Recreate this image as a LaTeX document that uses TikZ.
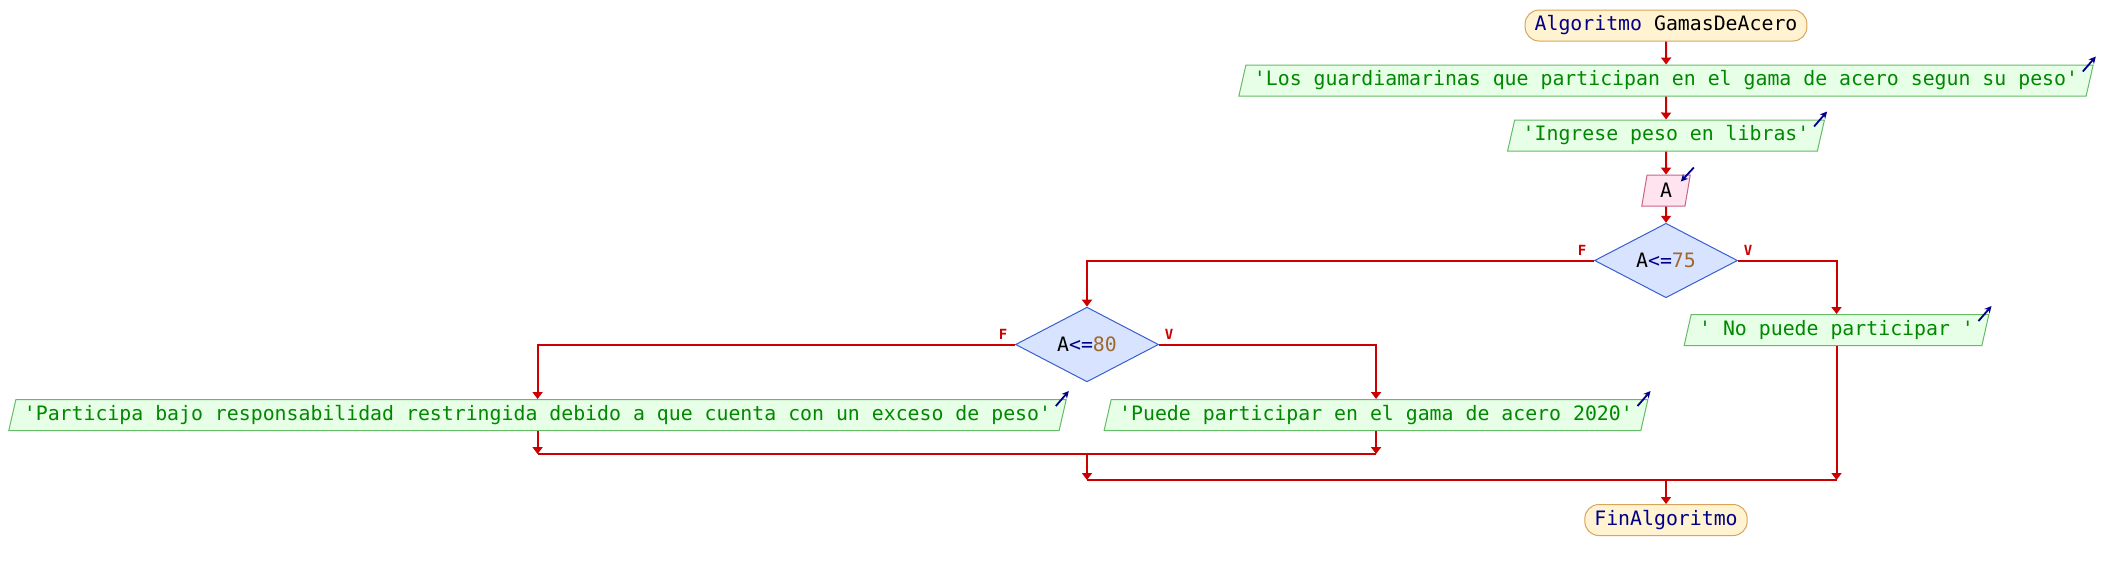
\documentclass[tikz,border=0pt]{standalone}
\usepackage{fontspec}
\setmonofont{DejaVu Sans Mono}
\usetikzlibrary{shapes.geometric,arrows.meta,calc}
\definecolor{flowred}{HTML}{CC0000}
\definecolor{tgreen}{HTML}{008800}
\definecolor{tblue}{HTML}{000088}
\definecolor{tbrown}{HTML}{A0682A}
\definecolor{outfill}{HTML}{E6FFE6}
\definecolor{outline}{HTML}{66BB66}
\definecolor{termfill}{HTML}{FFF3D2}
\definecolor{termline}{HTML}{D9A55A}
\definecolor{infill}{HTML}{FFE4EF}
\definecolor{inline}{HTML}{C86488}
\definecolor{decfill}{HTML}{D7E3FF}
\definecolor{decline}{HTML}{3A5FCD}
\begin{document}
\begin{tikzpicture}[x=0.5pt,y=-0.5pt,
  font=\ttfamily\fontsize{9.92pt}{12pt}\selectfont,
  outbox/.style={trapezium, trapezium left angle=70, trapezium right angle=110,
    trapezium stretches body=true,
    draw=outline, fill=outfill, line width=0.5pt, minimum height=15.5pt,
    inner xsep=4pt, inner ysep=0pt, text=tgreen},
  inbox/.style={outbox, draw=inline, fill=infill, text=black, inner xsep=6.5pt},
  term/.style={rectangle, rounded corners=7pt, draw=termline, fill=termfill,
    line width=0.5pt, minimum height=15.5pt, inner xsep=4.75pt, inner ysep=0pt},
  decision/.style={diamond, draw=decline, fill=decfill, line width=0.5pt,
    minimum width=71.5pt, minimum height=30.5pt, inner sep=0pt},
  wire/.style={draw=flowred, line width=1pt},
  flow/.style={wire, -{Triangle[length=3.5pt,width=5pt]}},
  lbl/.style={text=flowred, font=\ttfamily\bfseries\fontsize{7pt}{8pt}\selectfont},
  icon/.style={draw=tblue, line width=0.9pt, -{Stealth[length=3.5pt,width=3.5pt]}}
]
\fill[white] (0,0) rectangle (2102,570);
\useasboundingbox (0,0) rectangle (2102,570);

\node[term] (start) at (1666,25.5) {\textcolor{tblue}{Algoritmo} GamasDeAcero};
\node[outbox] (o1) at (1666,80.5) {'Los guardiamarinas que participan en el gama de acero segun su peso'};
\node[outbox] (o2) at (1666,135.5) {'Ingrese peso en libras'};
\node[inbox] (in) at (1666,190.5) {A};
\node[decision] (d1) at (1666,260.5) {A\textcolor{tblue}{<=}\textcolor{tbrown}{75}};
\node[outbox] (np) at (1836.5,330) {' No puede participar '};
\node[decision] (d2) at (1087,344.5) {A\textcolor{tblue}{<=}\textcolor{tbrown}{80}};
\node[outbox] (oL) at (537.5,415) {'Participa bajo responsabilidad restringida debido a que cuenta con un exceso de peso'};
\node[outbox] (oM) at (1376,415) {'Puede participar en el gama de acero 2020'};
\node[term] (fin) at (1666,520) {\textcolor{tblue}{FinAlgoritmo}};
\coordinate (mi) at (1087,454);
\coordinate (mo) at (1087,480);

% icons
\foreach \n in {o1,o2,np,oL,oM}{
  \draw[icon] ($(\n.top right corner)+(-11,7)$) -- ($(\n.top right corner)+(2,-8)$);
}
\draw[icon] ($(in.top right corner)+(3,-7)$) -- ($(in.top right corner)+(-10,7)$);

% connectors
\draw[flow] (start) -- (o1);
\draw[flow] (o1) -- (o2);
\draw[flow] (o2) -- (in);
\draw[flow] (in) -- (d1);
\draw[flow] (d1.west) -| (d2.north);
\draw[flow] (d1.east) -| (np.north);
\draw[flow] (d2.west) -| (oL.north);
\draw[flow] (d2.east) -| (oM.north);
\draw[flow] (oL.south) -- (oL.south |- mi);
\draw[flow] (oM.south) -- (oM.south |- mi);
\draw[wire] (oL.south |- mi) -- (oM.south |- mi);
\draw[flow] (mi) -- (mo);
\draw[flow] (np.south) -- (np.south |- mo);
\draw[wire] (mo) -- (np.south |- mo);
\draw[flow] (fin.north |- mo) -- (fin.north);

\node[lbl] (f1) at ($(d1.west)+(-12,-10)$) {F};
\node[lbl] (v1) at ($(d1.east)+(10,-10)$) {V};
\node[lbl] (f2) at ($(d2.west)+(-12,-10)$) {F};
\node[lbl] (v2) at ($(d2.east)+(10,-10)$) {V};
\end{tikzpicture}
\end{document}
